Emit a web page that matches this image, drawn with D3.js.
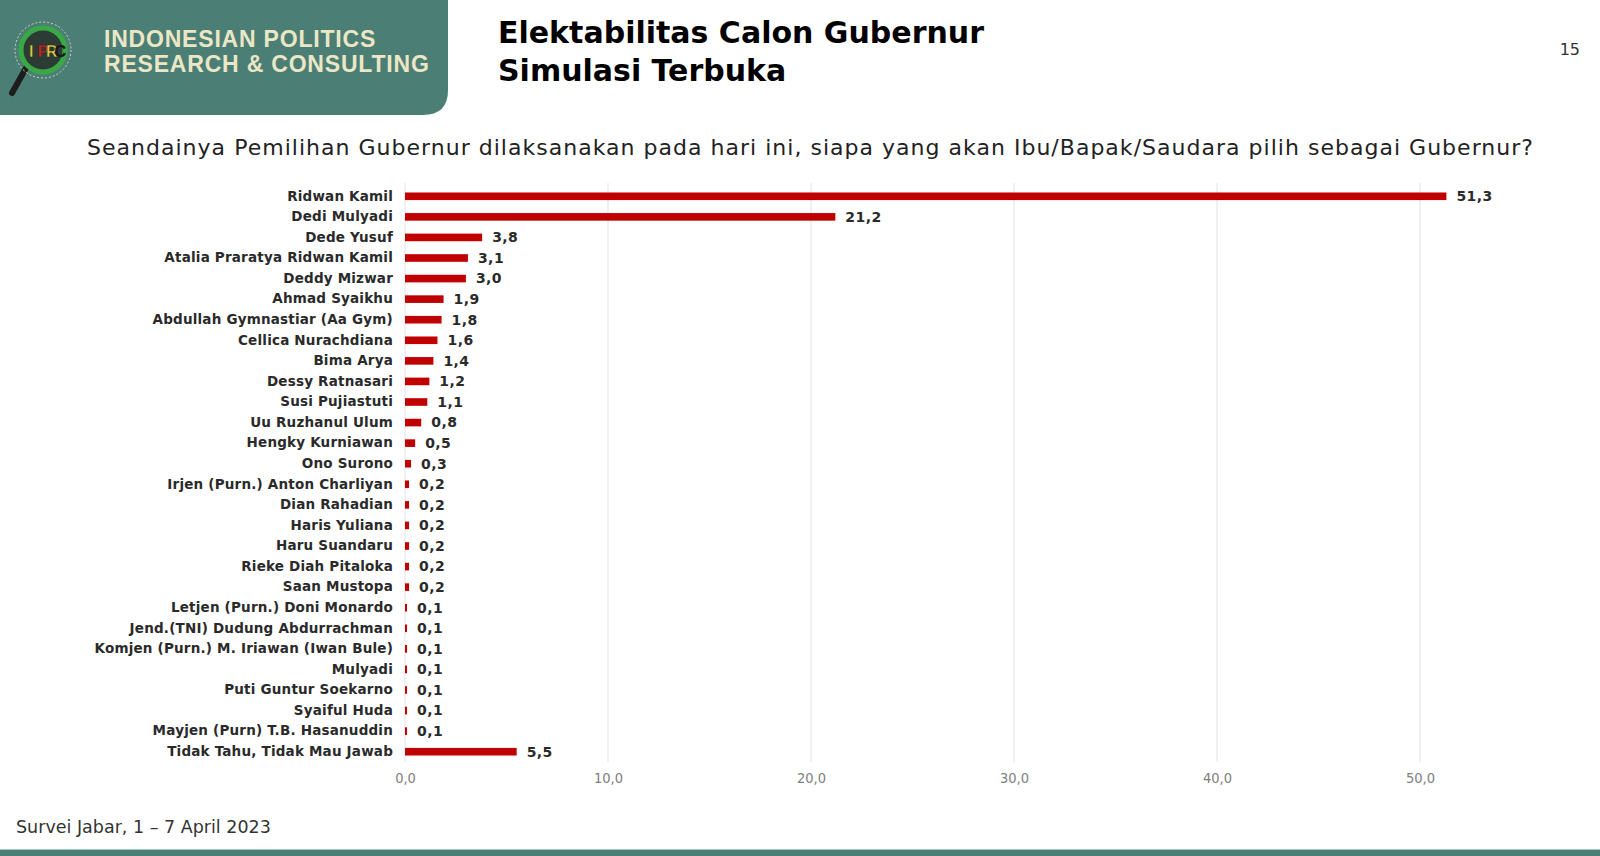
<!DOCTYPE html>
<html>
<head>
<meta charset="utf-8">
<script src="https://cdn.jsdelivr.net/npm/d3@7"></script>
<style>
  html, body { margin: 0; padding: 0; background: #ffffff; }
  svg { display: block; }
</style>
</head>
<body>
<svg id="chart" width="1600" height="856"></svg>
<script>
const names = [
  "Ridwan Kamil", "Dedi Mulyadi", "Dede Yusuf", "Atalia Praratya Ridwan Kamil",
  "Deddy Mizwar", "Ahmad Syaikhu", "Abdullah Gymnastiar (Aa Gym)", "Cellica Nurachdiana",
  "Bima Arya", "Dessy Ratnasari", "Susi Pujiastuti", "Uu Ruzhanul Ulum",
  "Hengky Kurniawan", "Ono Surono", "Irjen (Purn.) Anton Charliyan", "Dian Rahadian",
  "Haris Yuliana", "Haru Suandaru", "Rieke Diah Pitaloka", "Saan Mustopa",
  "Letjen (Purn.) Doni Monardo", "Jend.(TNI) Dudung Abdurrachman",
  "Komjen (Purn.) M. Iriawan (Iwan Bule)", "Mulyadi", "Puti Guntur Soekarno",
  "Syaiful Huda", "Mayjen (Purn) T.B. Hasanuddin", "Tidak Tahu, Tidak Mau Jawab"
];
const values = [51.3, 21.2, 3.8, 3.1, 3.0, 1.9, 1.8, 1.6, 1.4, 1.2, 1.1, 0.8, 0.5, 0.3,
  0.2, 0.2, 0.2, 0.2, 0.2, 0.2, 0.1, 0.1, 0.1, 0.1, 0.1, 0.1, 0.1, 5.5];
const tickValues = [0, 10, 20, 30, 40, 50];

const titleLines = ["Elektabilitas Calon Gubernur", "Simulasi Terbuka"];
const question = "Seandainya Pemilihan Gubernur dilaksanakan pada hari ini, siapa yang akan Ibu/Bapak/Saudara pilih sebagai Gubernur?";
const sourceNote = "Survei Jabar, 1 \u2013 7 April 2023";
const pageNumber = "15";
const orgLines = ["INDONESIAN POLITICS", "RESEARCH & CONSULTING"];

const fmt = v => d3.format(".1f")(v).replace(".", ",");

const svg = d3.select("#chart");
const teal = "#4b7f75";

// Header box with rounded bottom-right corner
svg.append("path")
  .attr("d", "M0,0 H448 V90 Q448,115 423,115 H0 Z")
  .attr("fill", teal);

// Logo (simplified magnifying glass)
const logo = svg.append("g");
logo.append("line").attr("x1", 26).attr("y1", 68).attr("x2", 12).attr("y2", 93)
  .attr("stroke", "#1d1d1d").attr("stroke-width", 6).attr("stroke-linecap", "round");
logo.append("circle").attr("cx", 43).attr("cy", 50).attr("r", 22)
  .attr("fill", "#2d3b35").attr("stroke", "#3aa845").attr("stroke-width", 5);
logo.append("circle").attr("cx", 43).attr("cy", 50).attr("r", 28)
  .attr("fill", "none").attr("stroke", "#d8d4b0").attr("stroke-width", 1).attr("stroke-dasharray", "2,2");
const logoLetters = [["I", "#e0d040"], ["P", "#d02020"], ["R", "#e0d040"], ["C", "#1a1a1a"]];
logoLetters.forEach((l, i) => {
  logo.append("text").attr("x", 29 + i * 8.5).attr("y", 57)
    .attr("font-family", "Liberation Sans, Arial, sans-serif").attr("font-weight", "bold")
    .attr("font-size", 16).attr("fill", l[1]).attr("stroke", "#222").attr("stroke-width", 0.4)
    .text(l[0]);
});

// Org name
svg.selectAll("text.org").data(orgLines).enter().append("text")
  .attr("class", "org")
  .attr("x", 104).attr("y", (d, i) => 47 + i * 25)
  .attr("font-family", "Liberation Sans, Arial, sans-serif").attr("font-weight", "bold")
  .attr("font-size", 23).attr("letter-spacing", 0.8).attr("fill", "#ebe7c6")
  .text(d => d);

// Title
svg.selectAll("text.title").data(titleLines).enter().append("text")
  .attr("class", "title")
  .attr("x", 498).attr("y", (d, i) => 43 + i * 38)
  .attr("font-family", "DejaVu Sans, Verdana, sans-serif").attr("font-weight", "bold")
  .attr("font-size", 30).attr("fill", "#000")
  .text(d => d);

// Page number
svg.append("text").attr("x", 1580).attr("y", 55).attr("text-anchor", "end")
  .attr("font-family", "DejaVu Sans, sans-serif").attr("font-size", 16).attr("fill", "#333")
  .text(pageNumber);

// Question
svg.append("text").attr("x", 87).attr("y", 155)
  .attr("font-family", "DejaVu Sans, Verdana, sans-serif").attr("font-size", 22)
  .attr("textLength", 1446).attr("lengthAdjust", "spacing")
  .attr("fill", "#222").text(question);

// Scales
const x = d3.scaleLinear().domain([0, 50]).range([405, 1420]);
const y = d3.scaleBand().domain(names).range([186, 762]).paddingInner(0.63).paddingOuter(0.315);

// Grid
svg.append("g").selectAll("line").data(tickValues).enter().append("line")
  .attr("x1", d => x(d)).attr("x2", d => x(d))
  .attr("y1", 183).attr("y2", 762)
  .attr("stroke", "#e2e2e2").attr("stroke-width", 1);

// Axis tick labels
const xAxis = d3.axisBottom(x).tickValues(tickValues).tickFormat(fmt).tickSize(0).tickPadding(0);
const ax = svg.append("g").attr("transform", "translate(0,773)").call(xAxis);
ax.select(".domain").remove();
ax.selectAll("text")
  .attr("font-family", "DejaVu Sans Condensed, DejaVu Sans, sans-serif")
  .attr("font-size", 14.5).attr("fill", "#808080");

// Category labels
const yAxis = d3.axisLeft(y).tickSize(0).tickPadding(12);
const ay = svg.append("g").attr("transform", `translate(${x(0)},0)`).call(yAxis);
ay.select(".domain").remove();
ay.selectAll("text")
  .attr("font-family", "DejaVu Sans, Verdana, sans-serif").attr("font-weight", "bold")
  .attr("font-size", 13.5).attr("letter-spacing", 0.2).attr("fill", "#2a2a2a");

// Bars
const rows = names.map((n, i) => ({ name: n, value: values[i] }));
svg.append("g").selectAll("rect").data(rows).enter().append("rect")
  .attr("x", x(0)).attr("y", d => y(d.name))
  .attr("width", d => x(d.value) - x(0)).attr("height", y.bandwidth())
  .attr("fill", "#c00000");

// Value labels
svg.append("g").selectAll("text").data(rows).enter().append("text")
  .attr("x", d => x(d.value) + 10).attr("y", d => y(d.name) + y.bandwidth() / 2)
  .attr("dy", "0.35em")
  .attr("font-family", "DejaVu Sans, Verdana, sans-serif").attr("font-weight", "bold")
  .attr("font-size", 14).attr("letter-spacing", 0.45).attr("fill", "#2a2a2a")
  .text(d => fmt(d.value));

// Source note
svg.append("text").attr("x", 16).attr("y", 833)
  .attr("font-family", "DejaVu Sans, Verdana, sans-serif").attr("font-size", 17.5)
  .attr("fill", "#333").text(sourceNote);

// Bottom band
svg.append("rect").attr("x", 0).attr("y", 850).attr("width", 1600).attr("height", 6).attr("fill", teal);
svg.append("rect").attr("x", 0).attr("y", 849).attr("width", 1600).attr("height", 1).attr("fill", "#a9c8c1");
</script>
</body>
</html>
